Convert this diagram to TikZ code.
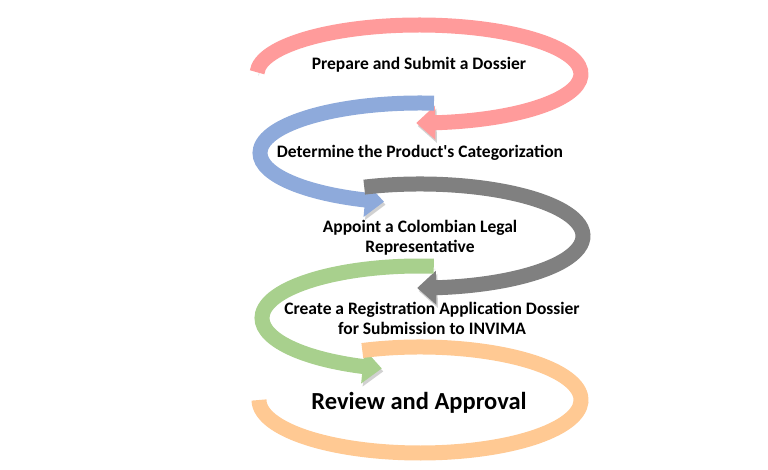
\documentclass[tikz,border=0pt]{standalone}
\usepackage{fontspec}
\setmainfont{Carlito}
\usepackage{tikz}
\usetikzlibrary{arrows.meta}
\usetikzlibrary{bending}
\usetikzlibrary{calc}

\definecolor{pinkband}{HTML}{FF9B9B}
\definecolor{blueband}{HTML}{8EAADB}
\definecolor{grayband}{HTML}{808080}
\definecolor{greenband}{HTML}{A8D08D}
\definecolor{orangeband}{HTML}{FFC993}

\begin{document}
\begin{tikzpicture}[x=1pt,y=1pt,band/.style={line width=15pt,preaction={draw=black!18,transform canvas={shift={(1.5pt,-3pt)}}}},
   head/.style={-{Triangle[width=33pt,length=19pt,flex]}},
   steptext/.style={font=\bfseries\fontsize{17.5}{20}\selectfont,align=center}]
   \useasboundingbox (0,0) rectangle (768,469);
   \coordinate (c_1) at (419,395);
   \coordinate (c_2) at (420,316);
   \coordinate (c_3) at (420,233);
   \coordinate (c_4) at (420,151);
   \coordinate (c_5) at (420,69);
   \draw[band,head,pinkband]   ($(c_1)+(178:162pt and 49pt)$) arc[start angle=178,end angle=-91,x radius=162pt,y radius=49pt];
   \draw[band,head,blueband]   ($(c_2)+(85:160pt and 50pt)$)  arc[start angle=85,end angle=257,x radius=160pt,y radius=50pt];
   \draw[band,head,grayband]   ($(c_3)+(110:163pt and 52pt)$) arc[start angle=110,end angle=-91,x radius=163pt,y radius=52pt];
   \draw[band,head,greenband]  ($(c_4)+(85:158pt and 52pt)$)  arc[start angle=85,end angle=256,x radius=158pt,y radius=52pt];
   \draw[band,orangeband]      ($(c_5)+(111:161pt and 53pt)$) arc[start angle=111,end angle=-180,x radius=161pt,y radius=53pt];
   \node[steptext] (s_1) at (419,404) {Prepare and Submit a Dossier};
   \node[steptext] (s_2) at (420,316) {Determine the Product\textquotesingle s Categorization};
   \node[steptext] (s_3) at (420,231.5) {Appoint a Colombian Legal\\Representative};
   \node[steptext] (s_4) at (432,151) {Create a Registration Application Dossier\\for Submission to INVIMA};
   \node[steptext,font=\bfseries\fontsize{24.5}{28}\selectfont] (s_5) at (419,66) {Review and Approval};
\end{tikzpicture}
\end{document}
